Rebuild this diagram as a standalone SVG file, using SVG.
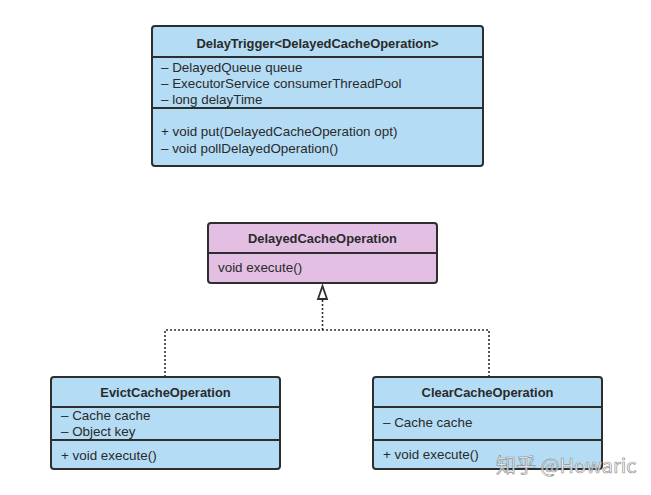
<svg xmlns="http://www.w3.org/2000/svg" width="651" height="495" viewBox="0 0 651 495">
<style>
.box{stroke:#2e2e2e;stroke-width:2}
.blue{fill:#b4dcf5}
.pink{fill:#e2bfe3}
.div{stroke:#2e2e2e;stroke-width:2}
text{font-family:"Liberation Sans","Noto Sans",Arial,sans-serif;font-size:13.4px;fill:#2a2a2a}
.t{font-weight:bold;text-anchor:middle;font-size:12.9px}
.con{fill:none;stroke:#2e2e2e;stroke-width:1.6;stroke-dasharray:2 2}
.wm{font-family:"Noto Sans CJK SC","Liberation Sans",sans-serif;font-size:20px;fill:#fff;stroke:#8a8a8a;stroke-width:0.7;opacity:0.9}
</style>
<rect width="651" height="495" fill="#fff"/>
<g id="DelayTrigger">
<rect class="box blue" x="152" y="26" width="331" height="140" rx="3"/>
<line class="div" x1="152" y1="57" x2="483" y2="57"/>
<line class="div" x1="152" y1="108" x2="483" y2="108"/>
<text class="t" x="317.5" y="48">DelayTrigger&lt;DelayedCacheOperation&gt;</text>
<text x="161" y="72">– DelayedQueue queue</text>
<text x="161" y="88">– ExecutorService consumerThreadPool</text>
<text x="161" y="104">– long delayTime</text>
<text x="161" y="136">+ void put(DelayedCacheOperation opt)</text>
<text x="161" y="153">– void pollDelayedOperation()</text>
</g>
<g id="DelayedCacheOperation">
<rect class="box pink" x="208" y="223" width="229" height="60" rx="3"/>
<line class="div" x1="208" y1="253" x2="437" y2="253"/>
<text class="t" x="322.5" y="243">DelayedCacheOperation</text>
<text x="218" y="272">void execute()</text>
</g>
<g id="EvictCacheOperation">
<rect class="box blue" x="51" y="377" width="229" height="92" rx="3"/>
<line class="div" x1="51" y1="407" x2="280" y2="407"/>
<line class="div" x1="51" y1="440" x2="280" y2="440"/>
<text class="t" x="165.5" y="397">EvictCacheOperation</text>
<text x="61" y="420">– Cache cache</text>
<text x="61" y="436">– Object key</text>
<text x="61" y="460">+ void execute()</text>
</g>
<g id="ClearCacheOperation">
<rect class="box blue" x="373" y="377" width="229" height="92" rx="3"/>
<line class="div" x1="373" y1="407" x2="602" y2="407"/>
<line class="div" x1="373" y1="440" x2="602" y2="440"/>
<text class="t" x="487.5" y="397">ClearCacheOperation</text>
<text x="383" y="427">– Cache cache</text>
<text x="383" y="459">+ void execute()</text>
</g>
<g id="connectors">
<path class="con" d="M165 377 V330 H489 V377"/>
<path class="con" d="M322.5 330 V299"/>
<polygon points="322.5,286 318,299 327,299" fill="#fff" stroke="#2e2e2e" stroke-width="1.8"/>
</g>
<text class="wm" x="496" y="473">知乎 @Howaric</text>
</svg>
